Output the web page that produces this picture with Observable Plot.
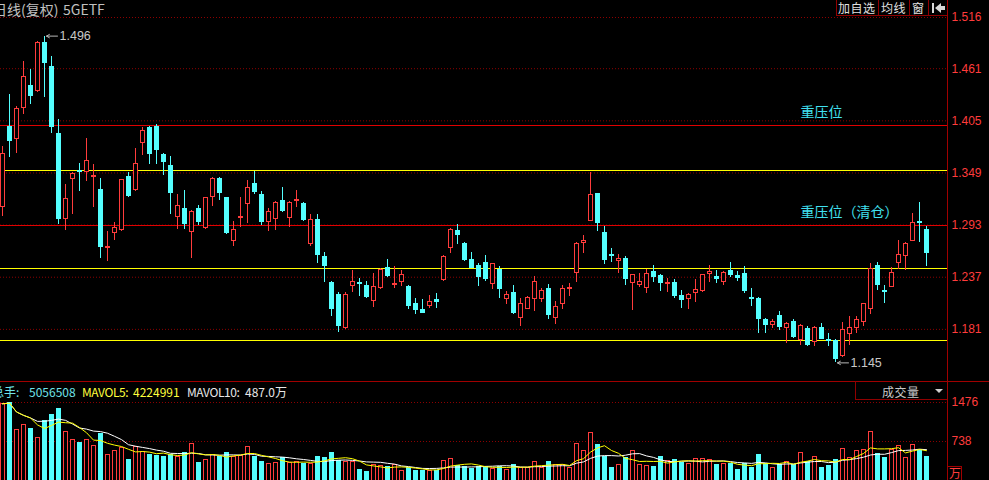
<!DOCTYPE html>
<html><head><meta charset="utf-8">
<script src="https://cdn.jsdelivr.net/npm/d3@7"></script>
<script src="https://cdn.jsdelivr.net/npm/@observablehq/plot@0.6"></script>
<style>
html,body{margin:0;padding:0;background:#000;}
#wrap{position:relative;width:989px;height:480px;overflow:hidden;background:#000;font-family:"Noto Sans CJK SC",sans-serif;}
#wrap svg{position:absolute;left:0;}
.abs{position:absolute;white-space:nowrap;}
</style></head><body>
<div id="wrap">
  <div class="abs" style="left:-7px;top:2px;font-size:14px;line-height:14px;color:#c0c0c0">日线(复权)</div>
  <div class="abs" style="left:63px;top:2px;font-size:14px;line-height:14px;color:#c0c0c0">5GETF</div>
  <div class="abs" style="left:836px;top:0px;width:110px;height:15px;border:1px solid #900000;border-top:none;"></div>
  <div class="abs" style="left:878px;top:0px;width:1px;height:16px;background:#900000"></div>
  <div class="abs" style="left:909px;top:0px;width:1px;height:16px;background:#900000"></div>
  <div class="abs" style="left:928px;top:0px;width:1px;height:16px;background:#900000"></div>
  <div class="abs" style="left:838px;top:2px;font-size:12px;line-height:12px;color:#e0e0e0;letter-spacing:0.5px">加自选</div>
  <div class="abs" style="left:881px;top:2px;font-size:12px;line-height:12px;color:#e0e0e0;letter-spacing:0.5px">均线</div>
  <div class="abs" style="left:912px;top:2px;font-size:12px;line-height:12px;color:#e0e0e0">窗</div>
  <svg class="abs" style="left:929px;top:0px" width="18" height="16"><rect x="3" y="3" width="2" height="10" fill="#d8d8d8"/><polygon points="6,8 12,3 12,13" fill="#d8d8d8"/><rect x="12" y="6" width="4" height="4" fill="#d8d8d8"/></svg>
</div>
<script>
// ---- data (price in yuan, volume in 万手) ----
const openP = [1.312,1.398,1.385,1.419,1.442,1.437,1.489,1.463,1.391,1.300,
1.343,1.351,1.350,1.345,1.331,1.268,1.284,1.288,1.345,1.331,
1.381,1.397,1.398,1.368,1.356,1.302,1.310,1.286,1.310,1.290,
1.323,1.343,1.322,1.276,1.301,1.316,1.337,1.325,1.296,1.300,
1.319,1.301,1.319,1.316,1.273,1.298,1.259,1.231,1.218,1.182,
1.228,1.231,1.228,1.212,1.225,1.247,1.229,1.232,1.226,1.208,
1.202,1.206,1.213,1.234,1.268,1.287,1.273,1.256,1.249,1.252,
1.230,1.245,1.214,1.220,1.193,1.203,1.214,1.214,1.224,1.193,
1.208,1.224,1.242,1.274,1.297,1.326,1.285,1.261,1.254,1.257,
1.231,1.229,1.225,1.243,1.238,1.230,1.231,1.217,1.214,1.220,
1.222,1.240,1.237,1.232,1.244,1.238,1.240,1.215,1.214,1.191,
1.186,1.195,1.183,1.189,1.170,1.181,1.167,1.183,1.170,1.169,
1.152,1.176,1.183,1.189,1.203,1.249,1.222,1.227,1.252,1.260,
1.276,1.296,1.288];
const highP = [1.377,1.433,1.420,1.469,1.460,1.490,1.496,1.474,1.406,1.337,
1.350,1.359,1.386,1.358,1.343,1.286,1.296,1.342,1.350,1.375,
1.398,1.399,1.401,1.370,1.367,1.326,1.330,1.309,1.314,1.322,
1.344,1.344,1.322,1.297,1.323,1.341,1.351,1.329,1.311,1.318,
1.333,1.318,1.330,1.317,1.304,1.304,1.264,1.232,1.221,1.221,
1.244,1.236,1.232,1.241,1.246,1.256,1.249,1.244,1.228,1.214,
1.213,1.217,1.220,1.260,1.289,1.294,1.274,1.264,1.252,1.260,
1.252,1.249,1.222,1.228,1.214,1.216,1.238,1.225,1.229,1.211,
1.228,1.230,1.274,1.282,1.350,1.326,1.292,1.268,1.261,1.259,
1.239,1.241,1.245,1.250,1.240,1.236,1.235,1.223,1.220,1.235,
1.240,1.250,1.244,1.243,1.253,1.243,1.249,1.225,1.215,1.193,
1.192,1.200,1.188,1.192,1.186,1.184,1.184,1.187,1.177,1.170,
1.188,1.195,1.195,1.209,1.252,1.253,1.228,1.247,1.276,1.274,
1.305,1.317,1.292];
const lowP = [1.302,1.366,1.370,1.412,1.423,1.435,1.430,1.391,1.294,1.287,
1.304,1.329,1.340,1.312,1.257,1.254,1.276,1.286,1.323,1.329,
1.368,1.358,1.358,1.346,1.304,1.288,1.288,1.257,1.293,1.288,
1.313,1.319,1.283,1.270,1.290,1.295,1.326,1.293,1.286,1.287,
1.307,1.290,1.312,1.297,1.270,1.252,1.231,1.195,1.178,1.181,
1.221,1.216,1.214,1.205,1.224,1.237,1.225,1.227,1.202,1.197,
1.199,1.203,1.203,1.232,1.263,1.272,1.254,1.246,1.227,1.232,
1.224,1.214,1.208,1.197,1.184,1.202,1.200,1.210,1.192,1.186,
1.202,1.216,1.231,1.263,1.297,1.286,1.251,1.253,1.241,1.228,
1.201,1.226,1.220,1.231,1.222,1.221,1.214,1.203,1.202,1.210,
1.221,1.231,1.230,1.228,1.237,1.232,1.220,1.206,1.177,1.177,
1.182,1.180,1.166,1.171,1.164,1.163,1.163,1.170,1.163,1.145,
1.151,1.164,1.177,1.184,1.197,1.223,1.209,1.226,1.245,1.244,
1.275,1.274,1.249];
const closeP = [1.369,1.383,1.418,1.452,1.432,1.489,1.467,1.398,1.300,1.321,
1.348,1.350,1.362,1.346,1.269,1.269,1.290,1.341,1.324,1.359,
1.394,1.369,1.374,1.361,1.327,1.313,1.294,1.307,1.296,1.322,
1.343,1.327,1.285,1.288,1.302,1.333,1.329,1.296,1.307,1.317,
1.308,1.317,1.320,1.298,1.299,1.261,1.249,1.203,1.185,1.218,
1.232,1.230,1.216,1.227,1.245,1.238,1.230,1.239,1.206,1.202,
1.199,1.210,1.210,1.259,1.288,1.282,1.256,1.247,1.237,1.235,
1.251,1.224,1.218,1.199,1.208,1.215,1.232,1.222,1.196,1.205,
1.224,1.225,1.273,1.276,1.325,1.295,1.256,1.260,1.257,1.235,
1.239,1.232,1.241,1.237,1.231,1.231,1.217,1.213,1.218,1.223,
1.239,1.243,1.235,1.242,1.239,1.236,1.222,1.214,1.192,1.186,
1.189,1.184,1.187,1.173,1.185,1.164,1.183,1.171,1.169,1.149,
1.180,1.182,1.191,1.208,1.246,1.229,1.221,1.242,1.261,1.273,
1.295,1.295,1.263];
const volume = [1451,1476,965,1041,984,795,1135,1249,1362,927,
757,719,757,662,889,492,549,624,397,643,
530,492,473,454,492,454,530,700,341,397,
492,454,530,454,473,643,454,359,303,322,
435,322,341,322,303,454,435,530,378,359,
359,208,170,284,265,265,284,189,246,189,
189,189,189,378,416,284,265,227,265,265,
227,265,208,303,246,246,359,246,359,284,
284,246,700,549,908,681,454,246,284,435,
549,284,265,265,454,378,397,341,303,416,
416,397,303,303,322,208,322,246,492,322,
246,303,359,303,511,359,454,246,284,397,
605,435,549,568,927,511,435,568,662,435,
681,587,454];
const priceTicks = [1.516,1.461,1.405,1.349,1.293,1.237,1.181];
const priceDomain = [1.125, 1.516];
const volTicks = [1476, 738];
const volDomain = [0, 1476];
const redLevels = [1.400, 1.293];
const redLevelLabels = ["重压位", "重压位（清仓）"];
const yellowLevels = [1.3514, 1.2462, 1.1689];
const labelAtIndex = 114;
const extremes = [{i: 6, value: 1.496}, {i: 119, value: 1.145}];
const volHeader = [
  {text: "总手:", left: -8, color: "#6fe3ea", ls: 0},
  {text: "5056508", left: 29, color: "#6fe3ea", ls: 0},
  {text: "MAVOL5:", left: 82, color: "#ffff3c", ls: -0.4},
  {text: "4224991", left: 133, color: "#ffff3c", ls: 0},
  {text: "MAVOL10:", left: 187, color: "#e8e8e8", ls: -0.4},
  {text: "487.0万", left: 245, color: "#e8e8e8", ls: 0}
];

// ---- build ----
const candles = openP.map((o, i) => ({i, open: o, high: highP[i], low: lowP[i], close: closeP[i], volume: volume[i], up: closeP[i] >= o}));
const ups = candles.filter(d => d.up), downs = candles.filter(d => !d.up);
const levels = redLevels.map((p, j) => ({price: p, label: redLevelLabels[j]}));

const RED = "#ff3c3c", CYAN = "#54ffff", GRID = "#8c0000";
const FONT = '"Noto Sans CJK SC", sans-serif';
const NUMFONT = '"Liberation Sans", Arial, sans-serif';
const STEP = 7, C0 = 2, FRAME_R = 947, W = 989;
const xDomain = [-C0 / STEP, (FRAME_R - C0) / STEP];
const base = {width: W, marginLeft: 0, marginRight: W - FRAME_R,
  style: {background: "transparent", color: RED, fontFamily: NUMFONT, overflow: "visible"}};

const price = Plot.plot({
  ...base, height: 382, marginTop: 17, marginBottom: 1,
  x: {type: "linear", domain: xDomain, axis: null},
  y: {domain: priceDomain, axis: null},
  marks: [
    Plot.ruleY(priceTicks, {stroke: GRID, strokeDasharray: "1,2"}),
    Plot.ruleY(redLevels, {stroke: "#e00000", shapeRendering: "crispEdges"}),
    Plot.ruleY(yellowLevels, {stroke: "#ffff00", shapeRendering: "crispEdges"}),
    Plot.text(priceTicks, {y: d => d, frameAnchor: "right", dx: 4, textAnchor: "start", text: d => d.toFixed(3), fill: RED, fontSize: 12, fontFamily: NUMFONT}),
    Plot.text(levels, {x: () => labelAtIndex, y: "price", dy: -13, text: "label", textAnchor: "start", fill: "#40e0f0", fontSize: 14, fontFamily: FONT}),
    Plot.ruleX(ups, {x: "i", y1: "low", y2: "high", stroke: RED, shapeRendering: "crispEdges"}),
    Plot.ruleX(downs, {x: "i", y1: "low", y2: "high", stroke: CYAN, shapeRendering: "crispEdges"}),
    Plot.rect(downs, {x1: d => d.i - 2 / STEP, x2: d => d.i + 3 / STEP, y1: "open", y2: "close", fill: CYAN, insetTop: -0.5, insetBottom: -0.5, shapeRendering: "crispEdges"}),
    Plot.rect(ups, {x1: d => d.i - 1.5 / STEP, x2: d => d.i + 2.5 / STEP, y1: "open", y2: "close", fill: "#000", stroke: RED, strokeWidth: 1, shapeRendering: "crispEdges"}),
    Plot.arrow(extremes, {x1: d => d.i + 13 / STEP, x2: d => d.i + 2 / STEP, y1: "value", y2: "value", stroke: "#b8b8b8", strokeWidth: 1, headLength: 5, headAngle: 60}),
    Plot.text(extremes, {x: d => d.i + 13 / STEP, y: "value", dx: 2, text: d => d.value.toFixed(3), textAnchor: "start", fill: "#c8c8c8", fontSize: 12.5, fontFamily: NUMFONT})
  ]
});

const vol = Plot.plot({
  ...base, height: 98, marginTop: 20, marginBottom: 0,
  x: {type: "linear", domain: xDomain, axis: null},
  y: {domain: volDomain, axis: null},
  marks: [
    Plot.ruleY(volTicks, {stroke: GRID, strokeDasharray: "1,2"}),
    Plot.text(volTicks, {y: d => d, frameAnchor: "right", dx: 4, textAnchor: "start", text: d => String(d), fill: RED, fontSize: 12, fontFamily: NUMFONT}),
    Plot.rect(downs, {x1: d => d.i - 2 / STEP, x2: d => d.i + 3 / STEP, y1: 0, y2: "volume", fill: CYAN, shapeRendering: "crispEdges"}),
    Plot.rect(ups, {x1: d => d.i - 1.5 / STEP, x2: d => d.i + 2.5 / STEP, y1: 0, y2: "volume", fill: "#000", stroke: RED, strokeWidth: 1, shapeRendering: "crispEdges"}),
    Plot.line(candles, Plot.windowY({k: 10, anchor: "end"}, {x: "i", y: "volume", stroke: "#ffffff", strokeWidth: 1})),
    Plot.line(candles, Plot.windowY({k: 5, anchor: "end"}, {x: "i", y: "volume", stroke: "#ffff00", strokeWidth: 1}))
  ]
});

const wrap = document.getElementById("wrap");
price.style.top = "0px";
vol.style.top = "382px";
wrap.prepend(vol);
wrap.prepend(price);

function addDiv(css, html) {
  const d = document.createElement("div");
  d.className = "abs";
  d.style.cssText = css;
  if (html) d.textContent = html;
  wrap.appendChild(d);
  return d;
}
// frame lines
addDiv("left:0;top:381px;width:989px;height:1px;background:#a00000");
addDiv("left:947px;top:0;width:1px;height:480px;background:#a00000");
// volume header
volHeader.forEach(h => addDiv(`top:386px;left:${h.left}px;font-size:12px;line-height:12px;letter-spacing:${h.ls}px;color:${h.color};font-family:${FONT}`, h.text));
// 成交量 box
addDiv("left:855px;top:381px;width:91px;height:18px;border-left:1px solid #900000;border-bottom:1px solid #900000");
addDiv("left:882px;top:386px;font-size:12px;line-height:12px;color:#c8c8c8;letter-spacing:0.5px", "成交量");
addDiv("left:935px;top:389px;width:0;height:0;border-left:4px solid transparent;border-right:4px solid transparent;border-top:4px solid #d0d0d0");
// 万 box
addDiv("left:948px;top:466px;width:13px;height:14px;border-top:1px solid #a00000;border-right:1px solid #a00000");
addDiv("left:949px;top:467px;font-size:12px;line-height:12px;color:" + RED, "万");
</script>
</body></html>
